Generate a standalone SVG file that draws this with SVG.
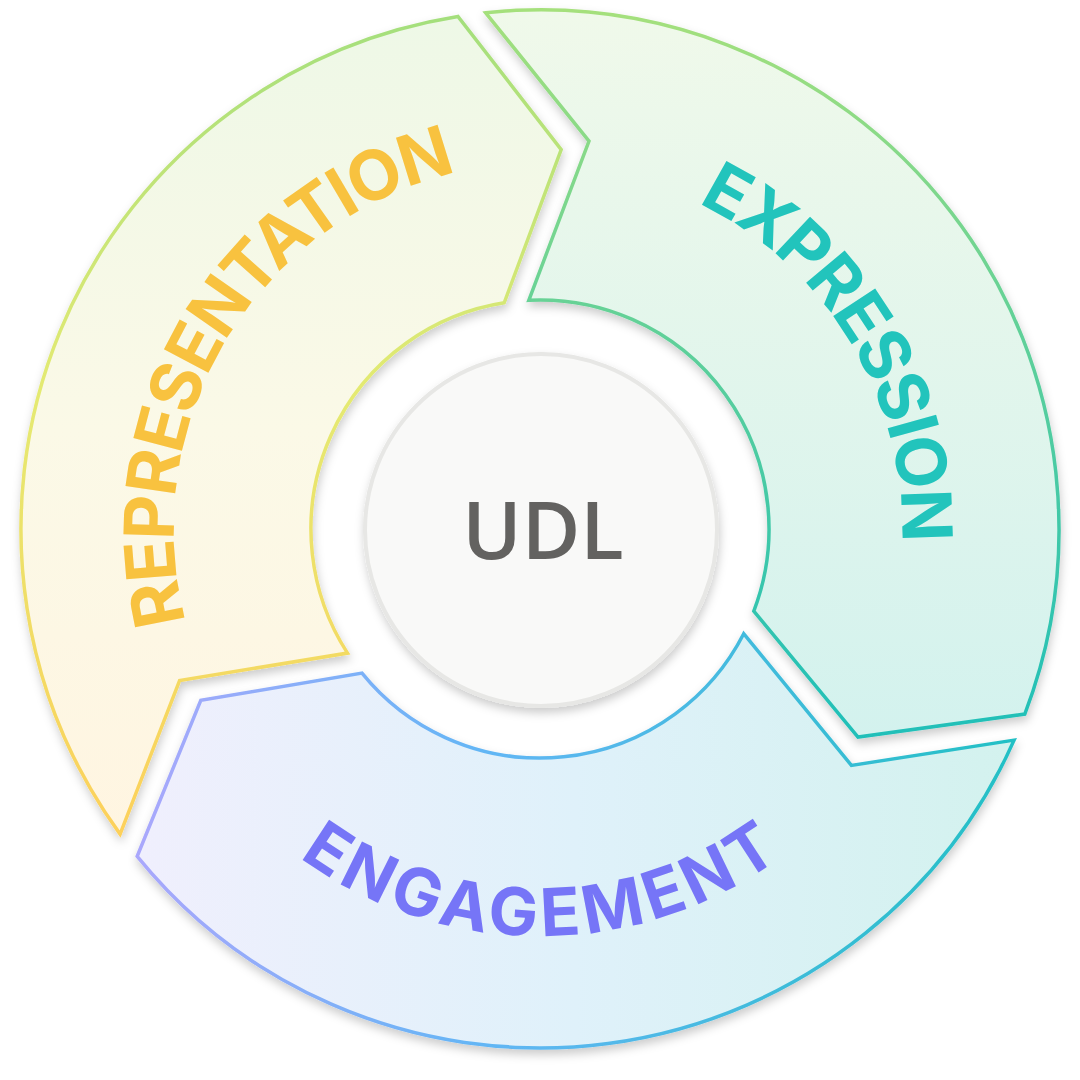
<svg xmlns="http://www.w3.org/2000/svg" width="1080" height="1080" viewBox="0 0 1080 1080">
<defs>
  <filter id="shadow" x="-20%" y="-20%" width="140%" height="140%">
    <feDropShadow dx="1" dy="5" stdDeviation="5" flood-color="#000" flood-opacity="0.2"/>
  </filter>
  <linearGradient id="repFill" x1="0" y1="20" x2="0" y2="840" gradientUnits="userSpaceOnUse">
    <stop offset="0" stop-color="#eef8e7"/>
    <stop offset="0.5" stop-color="#fbf9e7"/>
    <stop offset="1" stop-color="#fff5e1"/>
  </linearGradient>
  <linearGradient id="repStroke" x1="0" y1="20" x2="0" y2="840" gradientUnits="userSpaceOnUse">
    <stop offset="0" stop-color="#a4df7c"/>
    <stop offset="0.45" stop-color="#e4ea72"/>
    <stop offset="1" stop-color="#fdd05a"/>
  </linearGradient>
  <linearGradient id="expFill" x1="0" y1="10" x2="0" y2="740" gradientUnits="userSpaceOnUse">
    <stop offset="0" stop-color="#f0f9ea"/>
    <stop offset="1" stop-color="#d3f2ee"/>
  </linearGradient>
  <linearGradient id="expStroke" x1="0" y1="10" x2="0" y2="740" gradientUnits="userSpaceOnUse">
    <stop offset="0" stop-color="#a5e07c"/>
    <stop offset="0.45" stop-color="#5fd099"/>
    <stop offset="1" stop-color="#1fbfb9"/>
  </linearGradient>
  <linearGradient id="engFill" x1="130" y1="0" x2="1020" y2="0" gradientUnits="userSpaceOnUse">
    <stop offset="0" stop-color="#f0effd"/>
    <stop offset="0.5" stop-color="#dff1fa"/>
    <stop offset="1" stop-color="#d3f2ee"/>
  </linearGradient>
  <linearGradient id="engStroke" x1="130" y1="0" x2="1020" y2="0" gradientUnits="userSpaceOnUse">
    <stop offset="0" stop-color="#aba7fc"/>
    <stop offset="0.4" stop-color="#62b6f5"/>
    <stop offset="1" stop-color="#22c0c4"/>
  </linearGradient>
  <path id="repArc" d="M 299.4 804.8 A 366 366 0 0 1 671.8 187.5" fill="none"/>
  <path id="expArc" d="M 410.3 191 A 362 362 0 0 1 777.5 802.2" fill="none"/>
  <path id="engArc" d="M 139.2 599.7 A 407 407 0 0 0 940.8 599.7" fill="none"/>
</defs>
<style>
  .seg { stroke-width: 3.5; stroke-linejoin: miter; filter: url(#shadow); }
  .lbl { font-family: Inter, "Open Sans", "Liberation Sans", sans-serif; font-weight: 700; font-size: 69px; }
  .eng { font-size: 66px; }
  .udl { font-family: "Open Sans", "Liberation Sans", sans-serif; font-weight: 600; font-size: 80px; fill: #636260; }
</style>
<rect width="1080" height="1080" fill="#ffffff"/>
<g id="connectors"></g>
<g id="node-representation">
  <path class="seg" fill="url(#repFill)" stroke="url(#repStroke)" d="M 120.1 834.1 A 519 519 0 0 1 457.9 16.5 L 561.2 149.6 L 504.2 302.8 A 229 229 0 0 0 347.5 653.1 L 179.6 680.5 Z"/>
  <text class="lbl" fill="#f8c23f"><textPath href="#repArc" startOffset="50%" text-anchor="middle" textLength="585" lengthAdjust="spacing">REPRESENTATION</textPath></text>
</g>
<g id="node-expression">
  <path class="seg" fill="url(#expFill)" stroke="url(#expStroke)" d="M 485.7 12.8 A 519 519 0 0 1 1024.8 714.1 L 858 737.1 L 753.8 611.1 A 229 229 0 0 0 528.8 300.3 L 589 141.1 Z"/>
  <text class="lbl" fill="#22c4bc"><textPath href="#expArc" startOffset="50%" text-anchor="middle" textLength="419" lengthAdjust="spacing">EXPRESSION</textPath></text>
</g>
<g id="node-engagement">
  <path class="seg" fill="url(#engFill)" stroke="url(#engStroke)" d="M 1014.1 740.1 A 519 519 0 0 1 137.2 856.3 L 200.8 700.3 L 362 673.1 A 229 229 0 0 0 743.7 633.7 L 851.4 765.4 Z"/>
  <text class="lbl eng" fill="#7675f7"><textPath href="#engArc" startOffset="50%" text-anchor="middle" textLength="515" lengthAdjust="spacing">ENGAGEMENT</textPath></text>
</g>
<g id="node-udl">
  <circle cx="541" cy="530" r="176" fill="#f9f9f8" stroke="#e7e7e5" stroke-width="4" filter="url(#shadow)"/>
  <text class="udl" x="543" y="559" text-anchor="middle">UDL</text>
</g>
</svg>
